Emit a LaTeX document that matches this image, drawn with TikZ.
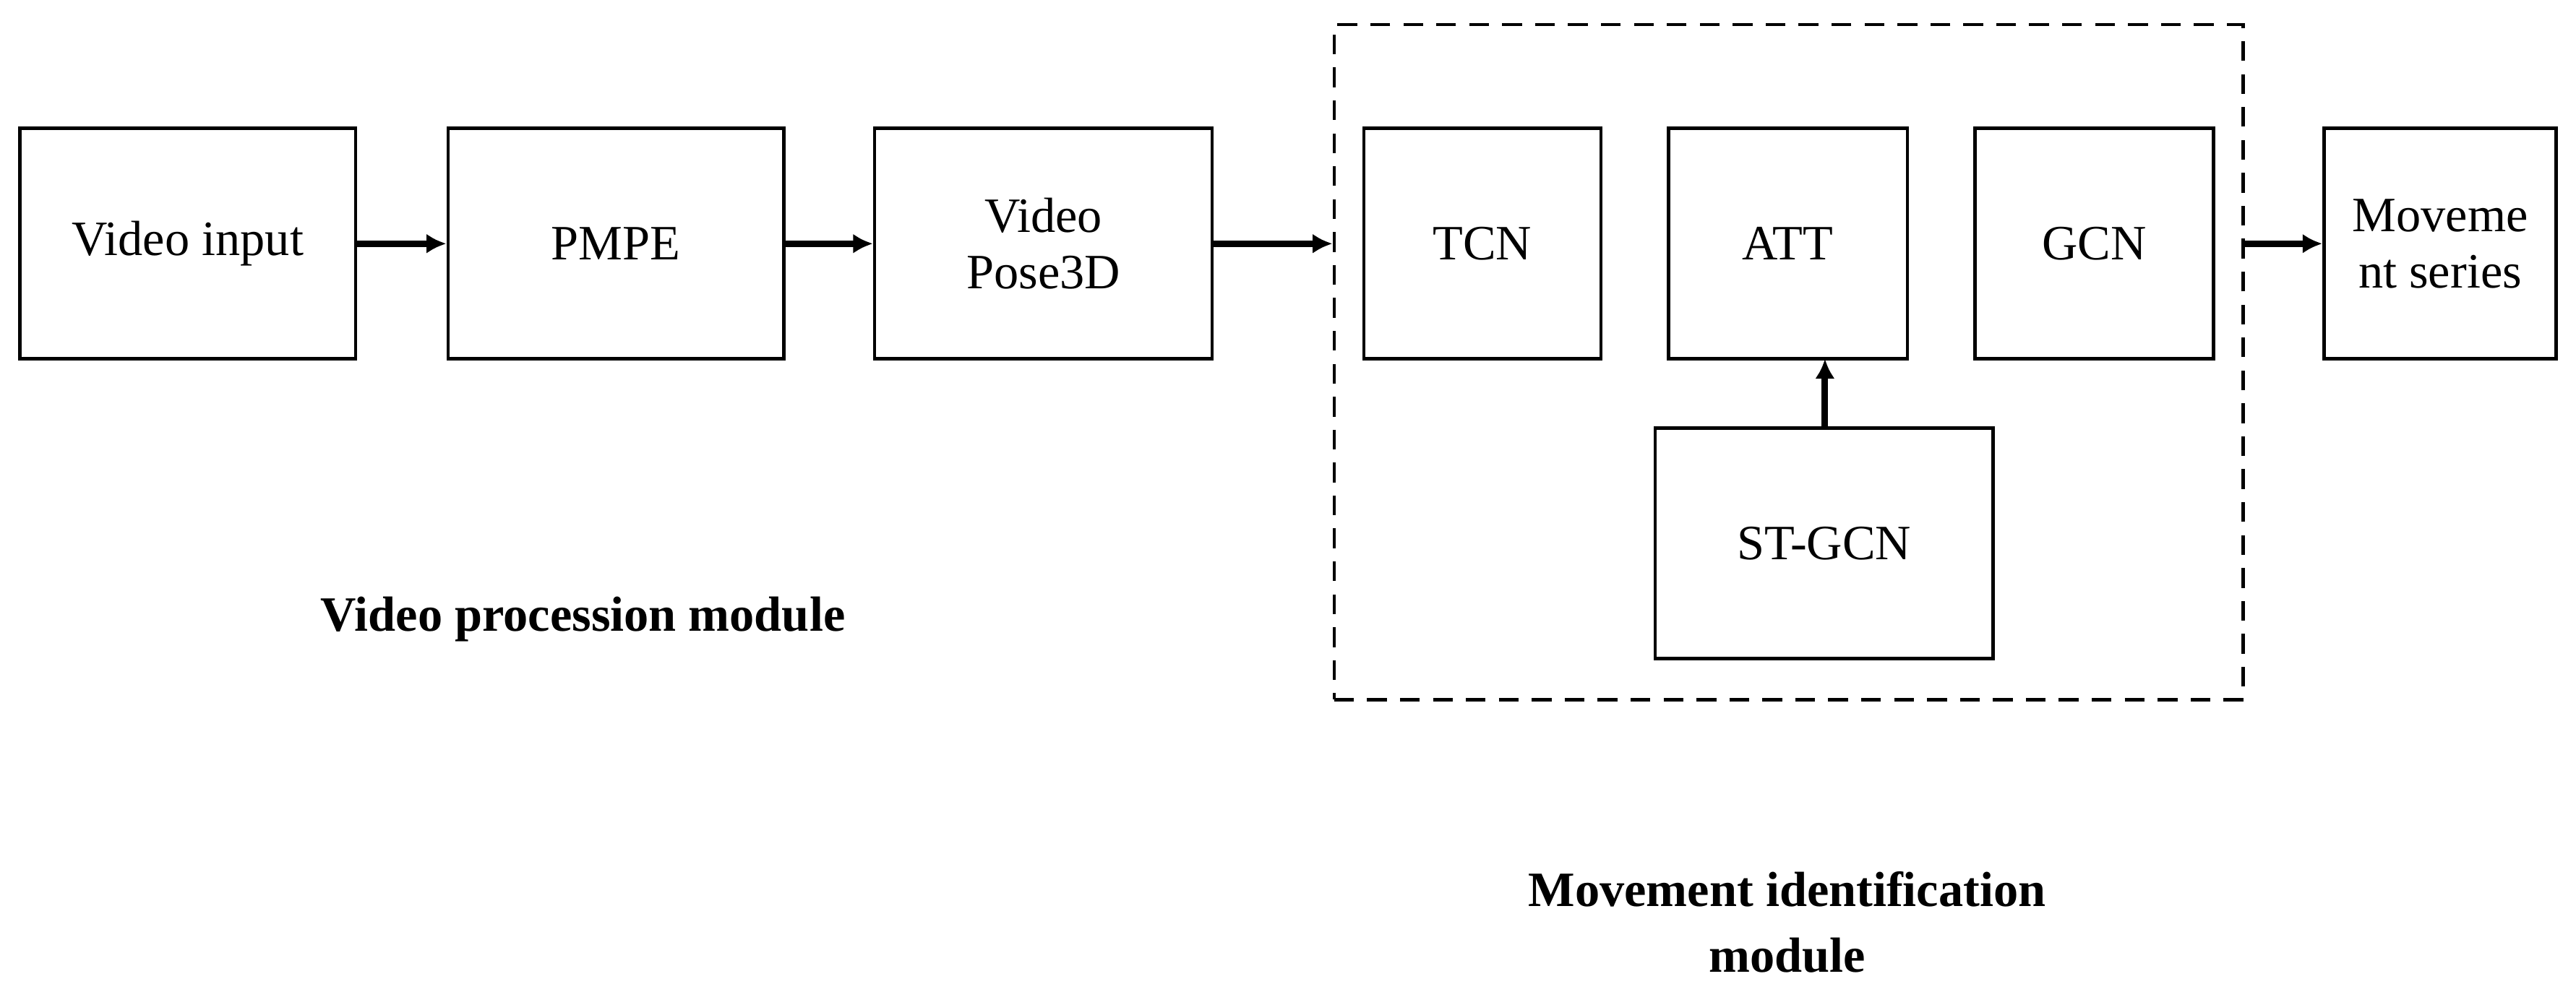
\documentclass[tikz,border=0pt]{standalone}
\usepackage{fontspec}
\setmainfont{Liberation Serif}
\usetikzlibrary{arrows.meta}
\begin{document}
\begin{tikzpicture}[x=0.5pt,y=-0.5pt,
  box/.style={draw,line width=1pt,inner sep=0pt,font=\fontsize{15}{17}\selectfont,align=center},
  arr/.style={line width=2pt,-{Latex[length=6pt,width=6pt]}},
  lab/.style={font=\bfseries\fontsize{15}{20}\selectfont,align=center}]
\useasboundingbox (0,0) rectangle (1564,610);
\def\bx#1#2#3#4#5#6{\node[box,minimum width=#4*0.5pt-#2*0.5pt,minimum height=#5*0.5pt-#3*0.5pt] (#1) at ({(#2+#4)/2},{(#3+#5)/2}) {#6};}
\bx{vi}{12}{78}{216}{218}{Video input}
\bx{pm}{272}{78}{476}{218}{PMPE}
\bx{vp}{531}{78}{736}{218}{Video\\Pose3D}
\node[draw,dashed,line width=1pt,dash pattern=on 6pt off 4pt,minimum width=276pt,minimum height=205pt,inner sep=0pt] (dm) at (1086,220) {};
\bx{tcn}{828}{78}{972}{218}{TCN}
\bx{att}{1013}{78}{1158}{218}{ATT}
\bx{gcn}{1199}{78}{1344}{218}{GCN}
\bx{mv}{1411}{78}{1552}{218}{Moveme\\nt series}
\bx{st}{1005}{260}{1210}{400}{ST-GCN}
\draw[arr] (vi) -- (pm);
\draw[arr] (pm) -- (vp);
\draw[arr] (vp.east) -- (vp.east -| dm.west);
\draw[arr] (mv.west -| dm.east) -- (mv.west);
\draw[arr] (1108,260) -- (1108,218);
\node[lab] (l1) at (354,376) {Video procession module};
\node[lab] (l2) at (1085,560) {Movement identification\\module};
\end{tikzpicture}
\end{document}
